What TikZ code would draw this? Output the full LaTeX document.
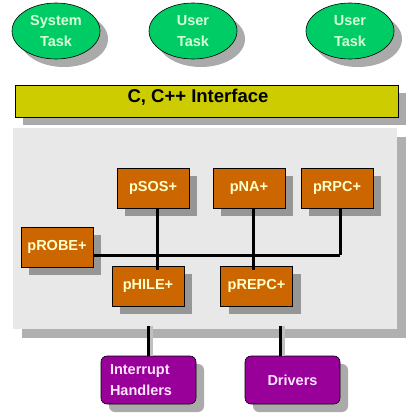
\documentclass[tikz,border=0pt]{standalone}
\usepackage{fontspec}
\setmainfont{Liberation Sans}
\usetikzlibrary{shapes.geometric,shadows}
\definecolor{taskgreen}{RGB}{0,204,102}
\definecolor{taskfg}{RGB}{215,255,215}
\definecolor{baryellow}{RGB}{204,204,0}
\definecolor{panelgray}{RGB}{232,232,232}
\definecolor{panelshadow}{RGB}{176,176,176}
\definecolor{shadowA}{RGB}{170,170,170}
\definecolor{shadowB}{RGB}{150,150,150}
\definecolor{modorange}{RGB}{204,102,0}
\definecolor{modfg}{RGB}{255,255,204}
\definecolor{extpurple}{RGB}{153,0,153}
\definecolor{extfg}{RGB}{255,228,255}
\tikzset{
  shad/.style={drop shadow={shadow xshift=8pt,shadow yshift=-8pt,fill=#1,opacity=1}},
  task/.style={ellipse,draw=black,line width=0.6pt,fill=taskgreen,minimum width=88pt,minimum height=56pt,inner sep=0pt,
    text=taskfg,align=center,font=\fontsize{14.5}{20.5}\selectfont\bfseries,shad=shadowA},
  module/.style={rectangle,draw=black,line width=0.6pt,fill=modorange,minimum width=72pt,minimum height=40pt,inner sep=0pt,
    text=modfg,font=\fontsize{14.5}{16}\selectfont\bfseries,shad=shadowB},
  ext/.style={rectangle,rounded corners=6pt,draw=black,line width=0.6pt,fill=extpurple,minimum width=95pt,minimum height=48pt,inner sep=0pt,
    text=extfg,font=\fontsize{14.5}{20.5}\selectfont\bfseries,shad=shadowA},
  bus/.style={line width=3pt,black},
  busshadow/.style={line width=3pt,color=panelshadow!80},
}
\begin{document}
\begin{tikzpicture}[x=1pt,y=-1pt]
\useasboundingbox (0,0) rectangle (413,417);
% tasks
\node[task] (sys) at (56,31) {System\\Task};
\node[task] (user1) at (193,31) {User\\Task};
\node[task] (user2) at (350,31) {User\\Task};
% interface bar
\node[rectangle,draw=black,line width=0.6pt,fill=baryellow,minimum width=383pt,minimum height=32pt,inner sep=0pt,shad=shadowA] (bar) at (206.5,101) {};
\node[font=\fontsize{18.5}{20}\selectfont\bfseries,text=black] (barlabel) at (198,97) {C, C++ Interface};
% panel
\node[rectangle,fill=panelgray,minimum width=384pt,minimum height=201pt,inner sep=0pt,
  drop shadow={shadow xshift=9pt,shadow yshift=-9pt,fill=panelshadow,opacity=1}] (panel) at (205,228.5) {};
% modules
\node[module] (psos) at (153,188) {pSOS+};
\node[module] (pna) at (249,188) {pNA+};
\node[module] (prpc) at (337,188) {pRPC+};
\node[module] (probe) at (57,247) {pROBE+};
\node[module] (phile) at (148,286) {pHILE+};
\node[module] (prepc) at (256.5,286) {pREPC+};
% bus coordinates
\coordinate (j1) at (157,270);
\coordinate (j2) at (253,270);
\coordinate (j3) at (340,255);
\draw[bus] (probe.east |- j3) -- (j3);
\draw[bus] (psos.south -| j1) -- (j1);
\draw[bus] (pna.south -| j2) -- (j2);
\draw[bus] (prpc.south -| j3) -- (j3);
% external
\node[ext,align=left,text width=77pt] (irq) at (148.5,380) {Interrupt\\Handlers};
\node[ext] (drv) at (292.5,380) {Drivers};
\coordinate (k1) at (148,326);
\coordinate (k2) at (280,326);
\draw[busshadow] ([xshift=3pt]k1) -- ([xshift=3pt]k1 |- irq.north);
\draw[busshadow] ([xshift=3pt]k2) -- ([xshift=3pt]k2 |- drv.north);
\draw[bus] (k1) -- (k1 |- irq.north);
\draw[bus] (k2) -- (k2 |- drv.north);
\end{tikzpicture}
\end{document}
